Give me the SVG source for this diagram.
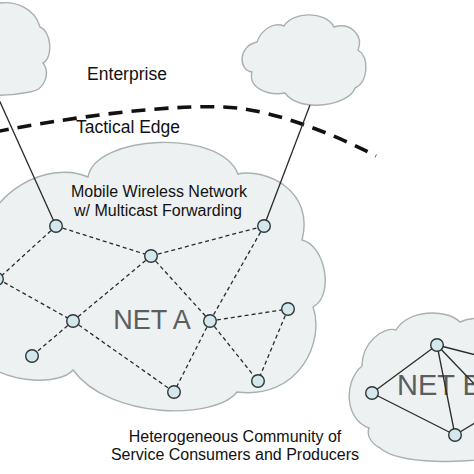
<svg xmlns="http://www.w3.org/2000/svg" width="474" height="474" viewBox="0 0 474 474">
<style>
.cloud{fill:#edf1f2;stroke:#a8b0b1;stroke-width:1.4}
.node{fill:#d3e7ec;stroke:#2c3636;stroke-width:1.4}
.dash{stroke:#2a2a2a;stroke-width:1.3;stroke-dasharray:4 3;fill:none}
.solid{stroke:#2a2a2a;stroke-width:1.3;fill:none}
.lbl{font-family:"Liberation Sans",Arial,sans-serif;fill:#111}
.big{font-family:"Liberation Sans",Arial,sans-serif;fill:#5a5e60}
</style>
<rect width="474" height="474" fill="#ffffff"/>
<g id="cloud-enterprise-left">
<path class="cloud" d="M -10,0 L 0,3 C 15,1 35,8 40,27 C 52,32 53,58 43,63 C 50,72 46,90 30,92 C 20,94 5,96 -10,95 Z"/>
</g>
<g id="cloud-enterprise-right">
<path class="cloud" d="M 257,42 C 262,28 275,22 284,26 C 292,12 325,10 334,27 C 350,22 364,35 358,50 C 370,58 368,82 355,88 C 350,105 300,114 285,93 C 268,96 248,88 252,72 C 238,70 238,46 257,42 Z"/>
</g>
<g id="cloud-net-a">
<path class="cloud" d="M -20,250 C -15,190 50,160 88,177 C 95,135 220,128 238,174 C 265,168 315,190 302,240 C 325,245 335,295 313,307 C 325,340 300,400 237,392 C 215,420 110,420 73,370 C 60,385 10,385 -20,360 Z"/>
</g>
<g id="cloud-net-b">
<path class="cloud" d="M 369,428 C 345,420 343,382 362,366 C 362,342 384,326 396,330 C 408,310 445,308 460,322 C 472,316 485,318 490,325 L 490,458 C 470,462 400,466 380,448 C 372,444 366,436 369,428 Z"/>
</g>
<g id="boundary">
<path d="M -5,132 C 60,119 175,102 237,108 C 275,112 330,132 376,156" fill="none" stroke="#111" stroke-width="3.6" stroke-dasharray="14 9"/>
</g>
<g id="labels">
<text class="lbl" x="127" y="80" font-size="17.5" text-anchor="middle">Enterprise</text>
<text class="lbl" x="128" y="133" font-size="17.5" text-anchor="middle">Tactical Edge</text>
<text class="lbl" x="159" y="197" font-size="16" text-anchor="middle">Mobile Wireless Network</text>
<text class="lbl" x="158" y="216" font-size="16" text-anchor="middle">w/ Multicast Forwarding</text>
<text class="big" x="152" y="329" font-size="27" text-anchor="middle">NET A</text>
<text class="big" x="397" y="395" font-size="29">NET B</text>
<text class="lbl" x="235" y="442" font-size="16" text-anchor="middle">Heterogeneous Community of</text>
<text class="lbl" x="235" y="460" font-size="16" text-anchor="middle">Service Consumers and Producers</text>
</g>
<g id="connectors">
<line class="solid" x1="-4" y1="93" x2="56" y2="226"/>
<line class="solid" x1="310" y1="105" x2="264" y2="226"/>
<line class="dash" x1="56" y1="226" x2="151" y2="256"/>
<line class="dash" x1="151" y1="256" x2="264" y2="226"/>
<line class="dash" x1="56" y1="226" x2="-2" y2="279"/>
<line class="dash" x1="-2" y1="279" x2="73" y2="321"/>
<line class="dash" x1="151" y1="256" x2="73" y2="321"/>
<line class="dash" x1="151" y1="256" x2="210" y2="321"/>
<line class="dash" x1="264" y1="226" x2="210" y2="321"/>
<line class="dash" x1="73" y1="321" x2="32" y2="356"/>
<line class="dash" x1="73" y1="321" x2="174" y2="392"/>
<line class="dash" x1="210" y1="321" x2="174" y2="392"/>
<line class="dash" x1="210" y1="321" x2="288" y2="309"/>
<line class="dash" x1="210" y1="321" x2="258" y2="381"/>
<line class="dash" x1="288" y1="309" x2="258" y2="381"/>
<line class="solid" x1="437" y1="345" x2="372" y2="393"/>
<line class="solid" x1="372" y1="393" x2="455" y2="435"/>
<line class="solid" x1="437" y1="345" x2="455" y2="435"/>
<line class="solid" x1="437" y1="345" x2="480" y2="356"/>
<line class="solid" x1="437" y1="345" x2="480" y2="390"/>
<line class="solid" x1="455" y1="435" x2="480" y2="420"/>
</g>
<g id="nodes-net-a">
<circle id="n1" class="node" cx="56" cy="226" r="6.3"/>
<circle id="n2" class="node" cx="151" cy="256" r="6.3"/>
<circle id="n3" class="node" cx="264" cy="226" r="6.3"/>
<circle id="n4" class="node" cx="-3" cy="279" r="6.3"/>
<circle id="n5" class="node" cx="73" cy="321" r="6.3"/>
<circle id="n6" class="node" cx="32" cy="356" r="6.3"/>
<circle id="n7" class="node" cx="210" cy="321" r="6.3"/>
<circle id="n8" class="node" cx="174" cy="392" r="6.3"/>
<circle id="n9" class="node" cx="288" cy="309" r="6.3"/>
<circle id="n10" class="node" cx="258" cy="381" r="6.3"/>
</g>
<g id="nodes-net-b">
<circle id="b1" class="node" cx="437" cy="345" r="6.3"/>
<circle id="b2" class="node" cx="372" cy="393" r="6.3"/>
<circle id="b3" class="node" cx="455" cy="435" r="6.3"/>
</g>
</svg>
